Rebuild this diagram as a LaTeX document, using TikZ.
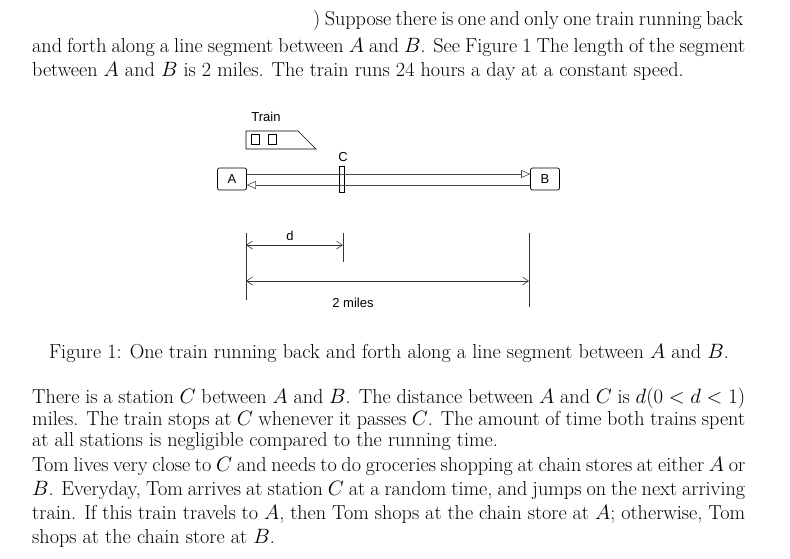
\documentclass[tikz,border=0pt]{standalone}
\usepackage{fontspec}
\newfontfamily\figfont{Liberation Sans}
\usetikzlibrary{arrows.meta}
\newcommand{\fl}[1]{\makebox[713pt][s]{#1}}
\begin{document}
\begin{tikzpicture}[x=1pt,y=-1pt,
  txt/.style={anchor=west,inner sep=0pt,font=\fontsize{20.2}{22}\selectfont},
  lbl/.style={inner sep=0pt,font=\figfont\fontsize{13}{15}\selectfont},
  box/.style={draw,rounded corners=2pt,minimum width=29pt,minimum height=22pt,inner sep=0pt,line width=0.7pt,font=\figfont\fontsize{13}{15}\selectfont},
  ln/.style={draw=black!70,line width=0.6pt},
  dim/.style={draw=black!80,line width=0.6pt}]
\useasboundingbox (0,0) rectangle (790,558);
% text
\node[txt] (t1) at (313,20) {\makebox[430pt][s]{) Suppose there is one and only one train running back}};
\node[txt] (t2) at (32,47) {\fl{and forth along a line segment between $A$ and $B$. See Figure 1 The length of the segment}};
\node[txt] (t3) at (32,71) {between $A$ and $B$ is 2 miles. The train runs 24 hours a day at a constant speed.};
\node[txt,anchor=center] (cap) at (389,353) {Figure 1: One train running back and forth along a line segment between $A$ and $B$.};
\node[txt] (p1) at (32,398) {\fl{There is a station $C$ between $A$ and $B$. The distance between $A$ and $C$ is $d(0<d<1)$}};
\node[txt] (p2) at (32,420) {\fl{miles. The train stops at $C$ whenever it passes $C$. The amount of time both trains spent}};
\node[txt] (p3) at (32,442) {at all stations is negligible compared to the running time.};
\node[txt] (q1) at (32,466) {\fl{Tom lives very close to $C$ and needs to do groceries shopping at chain stores at either $A$ or}};
\node[txt] (q2) at (32,490) {\fl{$B$. Everyday, Tom arrives at station $C$ at a random time, and jumps on the next arriving}};
\node[txt] (q3) at (32,514) {\fl{train. If this train travels to $A$, then Tom shops at the chain store at $A$; otherwise, Tom}};
\node[txt] (q4) at (32,538) {shops at the chain store at $B$.};
% figure
\node[lbl] (train) at (266,117) {Train};
\draw[line width=0.7pt] (246,131) -- (298,131) -- (316,149) -- (246,149) -- cycle;
\draw[line width=0.6pt] (251,134) rectangle (259,144) (268,134) rectangle (276,144);
\node[box] (A) at (232,179) {A};
\node[box] (B) at (545,179) {B};
\node[draw,line width=0.6pt,minimum width=5pt,minimum height=26pt,inner sep=0pt] (C) at (342,179) {};
\node[lbl] (Cl) at (343,157) {C};
\coordinate (ua) at (A.east|-0,174);
\coordinate (ub) at (B.west|-0,174);
\coordinate (la) at (A.east|-0,185);
\coordinate (lb) at (B.west|-0,185);
\draw[ln,-{Triangle[open,length=9pt,width=8pt]}] (ua) -- (ub);
\draw[ln,-{Triangle[open,length=9pt,width=8pt]}] (lb) -- (la);
\coordinate (v1t) at (246,233); \coordinate (v1b) at (246,300);
\coordinate (v2t) at (343,233); \coordinate (v2b) at (343,262);
\coordinate (v3t) at (529,233); \coordinate (v3b) at (529,307);
\draw[dim] (v1t) -- (v1b) (v2t) -- (v2b) (v3t) -- (v3b);
\draw[dim,{Straight Barb[length=6pt,width=8pt]}-{Straight Barb[length=6pt,width=8pt]}] (246,245) -- (343,245);
\draw[dim,{Straight Barb[length=6pt,width=8pt]}-{Straight Barb[length=6pt,width=8pt]}] (246,281) -- (529,281);
\node[lbl] (d) at (290,236) {d};
\node[lbl] (m) at (353,303) {2 miles};
\end{tikzpicture}
\end{document}
